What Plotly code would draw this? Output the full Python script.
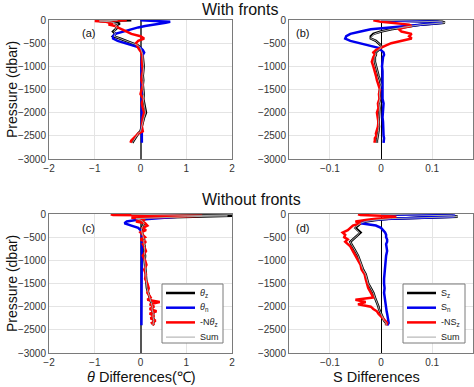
import plotly.graph_objects as go

# ---------------- data ----------------
p_top = [-5, -20, -40, -60, -80, -100, -130, -160, -200, -250, -300, -350, -400, -450,
         -500, -550, -600, -650, -700, -750, -800, -900, -1000, -1100, -1200, -1300,
         -1400, -1500, -1600, -1700, -1800, -1900, -2000, -2100, -2200, -2300, -2400,
         -2450, -2500, -2550, -2600, -2650]
p_bot = [-5, -20, -40, -60, -80, -100, -130, -160, -200, -250, -300, -350, -400, -450,
         -500, -550, -600, -650, -700, -800, -900, -1000, -1100, -1200, -1300, -1400,
         -1500, -1600, -1700, -1800, -1850, -1900, -1950, -2000, -2050, -2100, -2150,
         -2200, -2250, -2300, -2350, -2400]

# (a) theta, with fronts
a_thz = [-0.2, -0.9, -0.6, -0.5, -0.45, -0.5, -0.55, -0.5, -0.55, -0.6, -0.55, -0.6, -0.45, -0.3,
         -0.15, -0.05, 0.0, 0.02, 0.03, 0.05, 0.05, 0.06, 0.07, 0.06, 0.05, 0.06,
         0.05, 0.06, 0.07, 0.06, 0.08, 0.1, 0.12, 0.08, 0.05, 0.03, 0.0,
         -0.05, -0.08, -0.12, -0.15, -0.18]
a_thn = [0.0, 0.3, 0.65, 0.55, 0.4, 0.25, 0.1, -0.05, -0.2, -0.35, -0.55, -0.6, -0.6, -0.5,
         -0.35, -0.15, 0.0, 0.05, 0.08, 0.05, 0.03, 0.02, 0.02, 0.03, 0.02, 0.02,
         0.03, 0.02, 0.02, 0.03, 0.02, 0.02, 0.03, 0.02, 0.02, 0.03, 0.02,
         0.03, 0.02, 0.03, 0.02, 0.03]
a_nth = [-0.3, -1.0, -0.75, -0.65, -0.6, -0.7, -0.55, -0.5, -0.4, -0.3, -0.2, 0.0, 0.08, -0.05,
         -0.1, -0.08, -0.05, -0.02, 0.02, 0.03, 0.04, 0.03, 0.04, 0.05, 0.03, 0.02,
         0.05, 0.02, 0.0, 0.06, 0.03, 0.05, 0.08, 0.05, 0.04, 0.03, 0.05,
         -0.05, -0.1, -0.15, -0.2, -0.22]
a_sum = [-0.5, -0.9, -0.65, -0.55, -0.5, -0.5, -0.55, -0.52, -0.55, -0.58, -0.55, -0.58, -0.45, -0.3,
         -0.15, -0.05, 0.0, 0.02, 0.03, 0.05, 0.05, 0.06, 0.07, 0.06, 0.05, 0.06,
         0.05, 0.06, 0.07, 0.06, 0.08, 0.1, 0.11, 0.08, 0.05, 0.03, 0.0,
         -0.05, -0.08, -0.12, -0.15, -0.18]

# (b) salinity, with fronts
b_sz = [0.0, 0.06, 0.12, 0.125, 0.1, 0.08, 0.06, 0.04, 0.02, 0.0, -0.015, -0.02, -0.02, -0.01,
        -0.005, 0.0, 0.0, -0.005, -0.01, -0.01, -0.012, -0.012, -0.01, -0.008, -0.005, -0.002,
        0.0, -0.002, -0.003, -0.002, -0.004, -0.003, -0.003, -0.004, -0.005, -0.004, -0.005,
        -0.006, -0.006, -0.007, -0.008, -0.008]
b_sn = [0.0, 0.05, 0.11, 0.12, 0.1, 0.07, 0.04, 0.01, -0.02, -0.04, -0.06, -0.068, -0.07, -0.06,
        -0.04, -0.02, -0.005, 0.0, 0.005, 0.006, 0.004, 0.003, 0.002, 0.003, 0.003, 0.004,
        0.003, 0.003, 0.004, 0.003, 0.005, 0.004, 0.004, 0.003, 0.004, 0.004, 0.005,
        0.005, 0.005, 0.006, 0.005, 0.005]
b_nsz = [-0.015, -0.01, 0.0, 0.02, 0.04, 0.055, 0.06, 0.045, 0.035, 0.04, 0.06, 0.055, 0.06, 0.04,
         0.02, 0.01, 0.0, -0.01, -0.015, -0.012, -0.015, -0.018, -0.015, -0.012, -0.01, -0.008,
         -0.005, -0.002, -0.004, -0.003, -0.006, -0.005, -0.008, -0.006, -0.005, -0.006, -0.008,
         -0.01, -0.009, -0.012, -0.012, -0.013]
b_sum = [0.0, 0.06, 0.12, 0.125, 0.1, 0.08, 0.06, 0.04, 0.02, 0.0, -0.013, -0.018, -0.02, -0.01,
         -0.005, 0.0, 0.0, -0.005, -0.01, -0.01, -0.012, -0.012, -0.01, -0.008, -0.005, -0.002,
         0.0, -0.002, -0.003, -0.002, -0.004, -0.003, -0.003, -0.004, -0.005, -0.004, -0.005,
         -0.006, -0.006, -0.007, -0.008, -0.008]

# (c) theta, without fronts
c_thz = [0.0, 0.5, 2.0, 1.0, 0.3, -0.1, 0.0, 0.05, 0.08, 0.05, 0.03, 0.02, 0.03, 0.05,
         0.06, 0.08, 0.07, 0.08, 0.09, 0.08, 0.1, 0.09, 0.1, 0.1, 0.11, 0.12,
         0.13, 0.14, 0.17, 0.2, 0.22, 0.24, 0.25, 0.26, 0.25, 0.27, 0.28,
         0.27, 0.28, 0.29, 0.28, 0.27]
c_thn = [0.0, 0.3, 0.75, 0.8, 0.5, 0.2, -0.1, -0.3, -0.35, -0.2, -0.05, 0.0, 0.02, 0.03,
         0.03, 0.03, 0.02, 0.02, 0.03, 0.02, 0.02, 0.02, 0.02, 0.02, 0.02, 0.02,
         0.02, 0.02, 0.02, 0.02, 0.02, 0.02, 0.02, 0.02, 0.02, 0.02, 0.02,
         0.02, 0.02, 0.02, 0.02, 0.02]
c_nth = [-0.65, -0.6, 1.35, 0.8, -0.2, 0.0, 0.1, -0.1, 0.1, 0.15, 0.05, 0.12, 0.0, 0.05,
         0.1, 0.0, 0.12, 0.05, 0.08, 0.12, 0.05, 0.1, 0.13, 0.08, 0.12, 0.1,
         0.15, 0.18, 0.15, 0.22, 0.15, 0.42, 0.2, 0.3, 0.2, 0.35, 0.2,
         0.3, 0.22, 0.33, 0.25, 0.3]
c_sum = [-0.2, 0.5, 1.9, 1.0, 0.3, -0.1, 0.0, 0.05, 0.08, 0.05, 0.03, 0.02, 0.03, 0.05,
         0.06, 0.08, 0.07, 0.08, 0.09, 0.08, 0.1, 0.09, 0.1, 0.1, 0.11, 0.12,
         0.13, 0.14, 0.17, 0.2, 0.22, 0.24, 0.25, 0.26, 0.25, 0.27, 0.28,
         0.27, 0.28, 0.29, 0.28, 0.27]

# (d) salinity, without fronts
d_sz = [0.0, 0.05, 0.14, 0.15, 0.08, 0.02, -0.01, -0.03, -0.04, -0.045, -0.05, -0.045, -0.04, -0.045,
        -0.05, -0.055, -0.06, -0.058, -0.055, -0.05, -0.045, -0.042, -0.038, -0.035, -0.03, -0.028,
        -0.025, -0.02, -0.015, -0.012, -0.01, -0.008, -0.006, -0.005, -0.004, -0.002, 0.0,
        0.002, 0.004, 0.006, 0.01, 0.01]
d_sn = [0.0, 0.06, 0.145, 0.14, 0.08, 0.02, -0.02, -0.035, -0.04, -0.01, 0.0, 0.005, 0.008, 0.01,
        0.01, 0.012, 0.012, 0.01, 0.011, 0.012, 0.01, 0.009, 0.008, 0.008, 0.007, 0.006,
        0.006, 0.007, 0.006, 0.007, 0.008, 0.008, 0.009, 0.01, 0.01, 0.011, 0.012,
        0.013, 0.014, 0.015, 0.015, 0.012]
d_nsz = [-0.045, -0.04, 0.0, 0.03, 0.02, -0.01, -0.03, -0.05, -0.04, -0.055, -0.06, -0.065, -0.075, -0.07,
         -0.072, -0.065, -0.07, -0.065, -0.06, -0.055, -0.05, -0.045, -0.04, -0.038, -0.032, -0.03,
         -0.028, -0.025, -0.02, -0.015, -0.05, -0.03, -0.045, -0.02, -0.015, -0.008, -0.005,
         0.0, 0.005, 0.008, 0.012, 0.01]
d_sum = [0.0, 0.05, 0.14, 0.15, 0.08, 0.02, -0.01, -0.03, -0.04, -0.047, -0.052, -0.047, -0.042, -0.045,
         -0.05, -0.055, -0.06, -0.058, -0.055, -0.05, -0.045, -0.042, -0.038, -0.035, -0.03, -0.028,
         -0.025, -0.02, -0.015, -0.012, -0.01, -0.008, -0.006, -0.005, -0.004, -0.002, 0.0,
         0.002, 0.004, 0.006, 0.01, 0.01]

theta_names = ["<i>θ</i><sub>z</sub>", "<i>θ</i><sub>n</sub>", "-N<i>θ</i><sub>z</sub>", "Sum"]
sal_names = ["S<sub>z</sub>", "S<sub>n</sub>", "-NS<sub>z</sub>", "Sum"]
y_ticks = [0, -500, -1000, -1500, -2000, -2500, -3000]
theta_ticks = [-2, -1, 0, 1, 2]
sal_ticks = [-0.1, 0, 0.1]

# ---------------- figure ----------------
W, H = 474, 387
FONT = "Liberation Sans"
colors = ["#000000", "#0000ee", "#ff0000", "#a8a8a8"]
widths = [2.5, 2.5, 2.5, 1]

fig = go.Figure()

panels = [
    ("x", "y", p_top, [a_thz, a_thn, a_nth, a_sum], theta_names),
    ("x2", "y2", p_top, [b_sz, b_sn, b_nsz, b_sum], sal_names),
    ("x3", "y3", p_bot, [c_thz, c_thn, c_nth, c_sum], theta_names),
    ("x4", "y4", p_bot, [d_sz, d_sn, d_nsz, d_sum], sal_names),
]
for xa, ya, p, series, names in panels:
    for vals, name, col, w in zip(series, names, colors, widths):
        fig.add_trace(go.Scatter(
            x=vals, y=p, mode="lines", name=name, xaxis=xa, yaxis=ya,
            line=dict(color=col, width=w), showlegend=False))

def px_x(a, b):
    return [a / W, b / W]

def px_y(top, bot):
    return [1 - bot / H, 1 - top / H]

axis_common = dict(showline=True, linecolor="#7a7a7a", linewidth=1, mirror=True,
                   showgrid=True, gridcolor="#e4e4e4", gridwidth=1, automargin=False,
                   ticks="", tickfont=dict(family=FONT, size=10, color="#333333"))

dom_x_left = px_x(49, 232)
dom_x_right = px_x(289, 473)
dom_y_top = px_y(20, 159)
dom_y_bot = px_y(214, 353)

fig.update_layout(
    width=W, height=H, margin=dict(l=0, r=0, t=0, b=0, autoexpand=False),
    paper_bgcolor="white", plot_bgcolor="white", showlegend=False,
    font=dict(family=FONT, color="#222222"),
    xaxis=dict(domain=dom_x_left, range=[-2, 2], tickvals=theta_ticks, anchor="y",
               zeroline=True, zerolinecolor="#555555", zerolinewidth=1.5, **axis_common),
    yaxis=dict(domain=dom_y_top, range=[-3000, 0], tickvals=y_ticks, anchor="x",
               zeroline=False, **axis_common),
    xaxis2=dict(domain=dom_x_right, range=[-0.18, 0.18], tickvals=sal_ticks, anchor="y2",
                zeroline=True, zerolinecolor="#000000", zerolinewidth=1, **axis_common),
    yaxis2=dict(domain=dom_y_top, range=[-3000, 0], tickvals=y_ticks, anchor="x2",
                zeroline=False, **axis_common),
    xaxis3=dict(domain=dom_x_left, range=[-2, 2], tickvals=theta_ticks, anchor="y3",
                zeroline=True, zerolinecolor="#555555", zerolinewidth=1.5, **axis_common),
    yaxis3=dict(domain=dom_y_bot, range=[-3000, 0], tickvals=y_ticks, anchor="x3",
                zeroline=False, **axis_common),
    xaxis4=dict(domain=dom_x_right, range=[-0.18, 0.18], tickvals=sal_ticks, anchor="y4",
                zeroline=True, zerolinecolor="#000000", zerolinewidth=1, **axis_common),
    yaxis4=dict(domain=dom_y_bot, range=[-3000, 0], tickvals=y_ticks, anchor="x4",
                zeroline=False, **axis_common),
)

# legend boxes (drawn in paper space) for panels (c) and (d)
for left, right, names in [(162, 223, theta_names), (403, 465, sal_names)]:
    top, bot = 284, 343
    fig.add_shape(type="rect", xref="paper", yref="paper",
                  x0=left / W, x1=right / W, y0=1 - bot / H, y1=1 - top / H,
                  line=dict(color="#7a7a7a", width=1), fillcolor="white", layer="above")
    for i, (name, col, w) in enumerate(zip(names, colors, widths)):
        yy = 293 + i * 14.7
        fig.add_shape(type="line", xref="paper", yref="paper",
                      x0=(left + 4) / W, x1=(left + 33) / W, y0=1 - yy / H, y1=1 - yy / H,
                      line=dict(color=col, width=w), layer="above")
        fig.add_annotation(text=name, x=(left + 36) / W, y=1 - yy / H, xref="paper", yref="paper",
                           xanchor="left", yanchor="middle", showarrow=False,
                           font=dict(family=FONT, size=9, color="#222222"))

annos = [
    dict(text="With fronts", x=240 / W, y=1 - 9 / H, size=16, anchor="center"),
    dict(text="Without fronts", x=251 / W, y=1 - 200 / H, size=16, anchor="center"),
    dict(text="(a)", x=80 / W, y=1 - 33 / H, size=11, anchor="left"),
    dict(text="(b)", x=294 / W, y=1 - 33 / H, size=11, anchor="left"),
    dict(text="(c)", x=80 / W, y=1 - 228 / H, size=11, anchor="left"),
    dict(text="(d)", x=294 / W, y=1 - 228 / H, size=11, anchor="left"),
    dict(text="<i>θ</i> Differences(℃)", x=141 / W, y=1 - 377 / H, size=14.5, anchor="center"),
    dict(text="S Differences", x=376 / W, y=1 - 377 / H, size=14.5, anchor="center"),
]
for a in annos:
    fig.add_annotation(text=a["text"], x=a["x"], y=a["y"], xref="paper", yref="paper",
                       xanchor=a["anchor"], yanchor="middle", showarrow=False,
                       font=dict(family=FONT, size=a["size"], color="#111111"))
for yc in [90, 284]:
    fig.add_annotation(text="Pressure (dbar)", x=12 / W, y=1 - yc / H, xref="paper", yref="paper",
                       textangle=-90, showarrow=False, xanchor="center", yanchor="middle",
                       font=dict(family=FONT, size=14, color="#111111"))

fig.write_html("out.html", config={"displayModeBar": False},
               post_script="document.body.style.margin='0px';")
